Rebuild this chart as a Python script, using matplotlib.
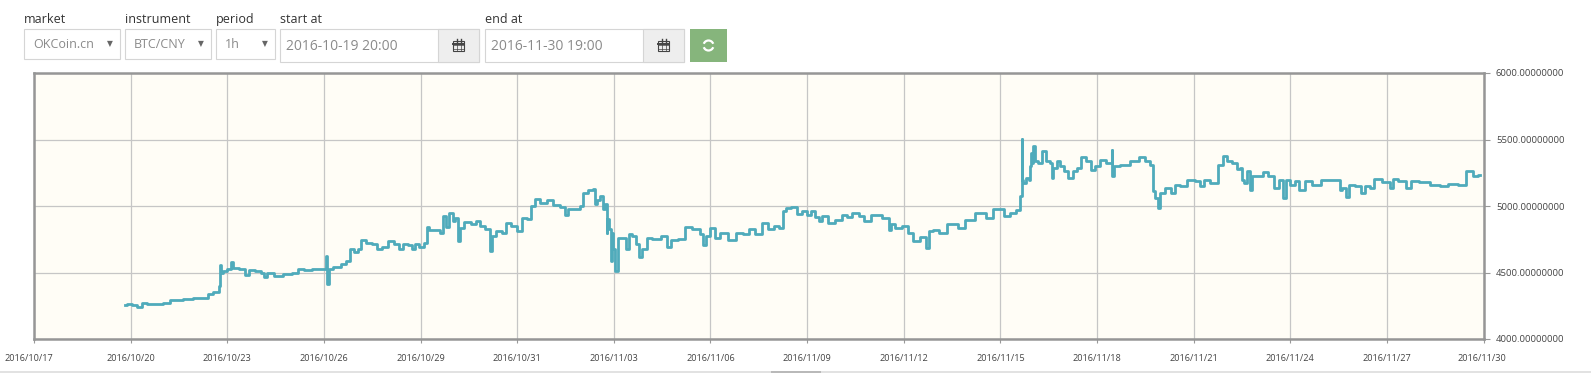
import matplotlib
matplotlib.use('Agg')
import numpy as np
import matplotlib.pyplot as plt
from matplotlib.patches import Rectangle, Arc
from matplotlib.transforms import ScaledTranslation

plt.rcParams['font.family'] = ['Open Sans', 'DejaVu Sans']

W, H = 1591, 373

# hours since the left edge of the axis
hours = [
    68, 71, 75, 79, 82, 87, 92, 100, 102, 107, 115, 122, 128, 131, 135, 137.5, 138, 139, 139.5, 142,
    146, 147, 149, 156, 159, 162, 167, 171, 172, 175.5, 182, 189, 195, 198, 204, 210, 216.5, 218, 219, 220,
    226, 231, 234, 237, 240, 242.5, 245.5, 249, 254, 257, 261, 266, 270, 273.5, 276, 281, 283, 285, 288.5, 293,
    293.2, 296, 302, 303, 306.5, 307.5, 311, 313, 315, 316.5, 318, 323, 328, 331, 334, 338, 341, 342, 347, 350.5,
    353, 358, 362, 365, 370, 371, 375, 379, 385, 389, 394.5, 396.5, 399, 406, 407.7, 411, 415, 417.6, 419, 420,
    423.3, 425, 426.3, 427, 427.6, 429.5, 430, 431, 432, 434, 436, 439, 442.5, 443.7, 447.4, 450, 451.7, 455, 458, 463.6,
    470.5, 473, 476, 483.5, 486.4, 494.6, 498, 499, 502, 506, 508.3, 513.8, 520.7, 525.7, 530.6, 534.4, 539.3, 545.6, 548, 554,
    556.7, 559, 561.7, 566.7, 570.4, 574, 577.4, 580, 584, 585.4, 589, 594, 600, 604, 607.7, 611.4, 617.6, 619.6, 627.6, 636.8,
    637, 640, 643.7, 650, 652.4, 657.4, 663.6, 666, 667.3, 672.3, 676, 684.7, 692, 696, 700.9, 702, 707, 712, 717, 720.7,
    724.5, 729.4, 734.4, 735.6, 736, 736.4, 738, 740.6, 741.9, 742.4, 743.3, 744.3, 744.8, 746.8, 749.3, 752.3, 755.5, 758.5, 758.7, 760.5,
    763.7, 765.5, 769.2, 772.2, 775.4, 779, 780.9, 786.6, 788.6, 792.8, 795.3, 802.7, 803.2, 803.7, 805.2, 812.6, 821.3, 825, 830, 833.3,
    833.5, 834.3, 836.3, 838.2, 840, 845, 848.7, 851, 856, 862.3, 867.3, 869.8, 873.5, 878.5, 881.7, 882.2, 885.4, 886.4, 890.9, 894.6,
    897.9, 899.5, 900, 903.2, 905, 907, 908.2, 914.4, 916.9, 921.9, 926.3, 929.3, 931.3, 934.3, 938, 940.5, 944.2, 949.2, 955.4, 962.9,
    972.8, 973.3, 976.5, 978.3, 981.5, 987.7, 989.7, 993.9, 997.6, 999.6, 1008.8, 1011.3, 1013.8, 1018.8, 1025, 1027.4, 1036.1, 1043.6, 1051, 1056,
    1065.5, 1066.7, 1067, 1070.7, 1074, 1077.6,
]
prices = [
    4254, 4261, 4258, 4243, 4268, 4266, 4261, 4273, 4296, 4293, 4303, 4306, 4308, 4338, 4351, 4356, 4400, 4560, 4500, 4512,
    4525, 4580, 4537, 4530, 4480, 4517, 4512, 4500, 4463, 4495, 4475, 4488, 4500, 4530, 4517, 4525, 4525, 4625, 4413, 4525,
    4545, 4562, 4587, 4674, 4655, 4675, 4742, 4720, 4712, 4680, 4695, 4735, 4712, 4680, 4715, 4710, 4680, 4712, 4695, 4720,
    4845, 4817, 4820, 4800, 4925, 4845, 4950, 4887, 4912, 4737, 4837, 4880, 4862, 4887, 4850, 4825, 4662, 4775, 4812, 4800,
    4875, 4850, 4812, 4912, 4900, 5000, 5055, 5025, 5045, 5005, 4995, 4930, 4975, 4980, 5000, 5100, 5120, 5130, 5012, 5045,
    5075, 4975, 5012, 4800, 4900, 4825, 4587, 4800, 4675, 4512, 4762, 4762, 4680, 4787, 4775, 4712, 4620, 4675, 4762, 4750,
    4775, 4695, 4745, 4755, 4845, 4830, 4787, 4705, 4775, 4837, 4762, 4800, 4745, 4795, 4787, 4825, 4787, 4875, 4830, 4850,
    4837, 4962, 4987, 4995, 4937, 4962, 4930, 4960, 4917, 4885, 4922, 4872, 4897, 4935, 4917, 4947, 4927, 4890, 4930, 4910,
    4822, 4865, 4835, 4852, 4797, 4735, 4767, 4685, 4810, 4822, 4797, 4865, 4835, 4892, 4897, 4947, 4947, 4910, 4977, 4977,
    4922, 4947, 4972, 5072, 5502, 5197, 5172, 5210, 5197, 5297, 5397, 5322, 5452, 5335, 5322, 5417, 5335, 5322, 5210, 5285,
    5342, 5297, 5260, 5210, 5260, 5285, 5372, 5335, 5272, 5297, 5347, 5322, 5422, 5222, 5297, 5310, 5342, 5367, 5342, 5310,
    5222, 5110, 5060, 4985, 5097, 5135, 5097, 5160, 5147, 5197, 5185, 5152, 5192, 5172, 5172, 5310, 5310, 5377, 5342, 5327,
    5277, 5285, 5197, 5172, 5260, 5122, 5222, 5227, 5252, 5222, 5135, 5197, 5060, 5197, 5160, 5185, 5117, 5185, 5160, 5197,
    5197, 5122, 5135, 5065, 5160, 5147, 5097, 5147, 5135, 5202, 5180, 5135, 5202, 5185, 5135, 5185, 5177, 5160, 5152, 5165,
    5160, 5160, 5262, 5262, 5223, 5236,
]

date_labels = ['2016/10/17', '2016/10/20', '2016/10/23', '2016/10/26', '2016/10/29', '2016/10/31',
               '2016/11/03', '2016/11/06', '2016/11/09', '2016/11/12', '2016/11/15', '2016/11/18',
               '2016/11/21', '2016/11/24', '2016/11/27', '2016/11/30']
price_ticks = [4000, 4500, 5000, 5500, 6000]

fig = plt.figure(figsize=(W / 100, H / 100), dpi=100, facecolor='white')

# the chart panel, placed in pixels
left, right, top, bottom = 34, 1483.5, 73, 339
ax = fig.add_axes([left / W, 1 - bottom / H, (right - left) / W, (bottom - top) / H])
ax.set_facecolor('#fffdf6')
ax.plot(hours, prices, color='#4fabbb', lw=2.0, drawstyle='steps-mid')
ax.set_xlim(0, 1080)
ax.set_ylim(4000, 6000)
ax.set_xticks(np.arange(len(date_labels)) * 72)
ax.set_xticklabels(date_labels, fontsize=6.6, color='#444444')
ax.set_yticks(price_ticks)
ax.set_yticklabels(['%.8f' % p for p in price_ticks], fontsize=6.8, color='#444444')
ax.yaxis.tick_right()
ax.grid(True, color='#c6c6c6', lw=0.9)
ax.set_axisbelow(True)
ax.tick_params(axis='x', length=3, width=0.8, color='#999999', pad=8)
ax.tick_params(axis='y', length=4, width=0.8, color='#999999', pad=5)
for side in ax.spines.values():
    side.set_color('#969696')
    side.set_linewidth(1.8)

# first and last date labels sit a little inside the page
first, last = ax.get_xticklabels()[0], ax.get_xticklabels()[-1]
first.set_transform(first.get_transform() + ScaledTranslation(-0.05, 0, fig.dpi_scale_trans))
last.set_transform(last.get_transform() + ScaledTranslation(-0.02, 0, fig.dpi_scale_trans))

# the form above the chart, also in pixels
ui = fig.add_axes([0, 0, 1, 1], zorder=5)
ui.set_xlim(0, W)
ui.set_ylim(H, 0)
ui.axis('off')


def box(x0, x1, y0, y1, fc='white', ec='#d5d5d5'):
    ui.add_patch(Rectangle((x0, y0), x1 - x0, y1 - y0, fc=fc, ec=ec, lw=0.8))


def calendar(cx, cy):
    ui.add_patch(Rectangle((cx - 5.5, cy - 5), 11, 10, fc='none', ec='#444444', lw=0.8))
    ui.plot([cx - 5.5, cx + 5.5], [cy - 2.5, cy - 2.5], color='#444444', lw=1.4)
    for d in (-2, 2):
        ui.plot([cx + d, cx + d], [cy - 2, cy + 5], color='#444444', lw=0.5)
        ui.plot([cx - 5.5, cx + 5.5], [cy + d + 1, cy + d + 1], color='#444444', lw=0.5)
        ui.plot([cx + d, cx + d], [cy - 7, cy - 4], color='#444444', lw=1.0)


for x, label in zip([24, 125, 216, 280, 485], ['market', 'instrument', 'period', 'start at', 'end at']):
    ui.text(x, 19.5, label, fontsize=9, color='#333333', va='center', ha='left')

for x0, x1, label, arrow_x in [(24, 120, 'OKCoin.cn', 110), (125, 211, 'BTC/CNY', 201), (216, 275, '1h', 265)]:
    box(x0, x1, 29, 59)
    ui.text(x0 + 9, 45, label, fontsize=9, color='#8a8a8a', va='center')
    ui.text(arrow_x, 44, '\u25bc', fontsize=5.5, color='#666666', va='center', ha='center', family='DejaVu Sans')

for x0, x1, xa, label in [(280, 479, 438, '2016-10-19 20:00'), (485, 684, 643, '2016-11-30 19:00')]:
    box(x0, x1, 29, 62)
    box(xa, x1, 29, 62, fc='#eeeeee')
    ui.text(x0 + 6, 46, label, fontsize=10, color='#8a8a8a', va='center')
    calendar((xa + x1) / 2, 46)

ui.add_patch(Rectangle((690, 29), 37, 33, fc='#86b57c', ec='none'))
ui.add_patch(Arc((708.5, 45.5), 10, 10, theta1=20, theta2=160, ec='white', lw=1.6))
ui.add_patch(Arc((708.5, 45.5), 10, 10, theta1=200, theta2=340, ec='white', lw=1.6))

# page scrollbar along the bottom edge
ui.add_patch(Rectangle((0, 370.5), W, 3, fc='#e2e2e2', ec='none'))
ui.add_patch(Rectangle((771, 370.5), 50, 3, fc='#b9b9b9', ec='none'))

fig.savefig('out.png', dpi=100)
plt.close(fig)
